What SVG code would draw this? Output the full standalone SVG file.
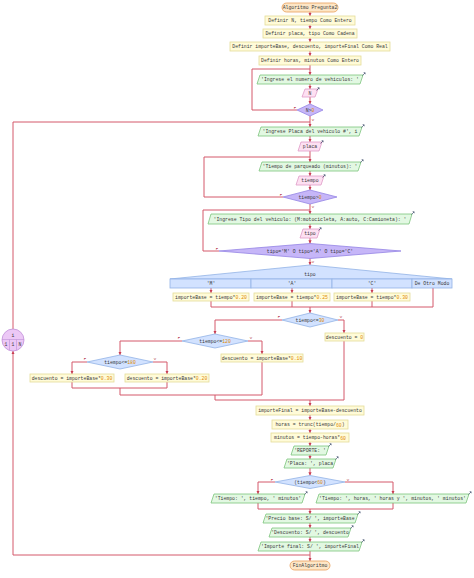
<svg xmlns="http://www.w3.org/2000/svg" width="474" height="578" viewBox="0 0 474 578">
<style>
text{font-family:"Liberation Mono","DejaVu Sans Mono",monospace;font-size:4.8px;fill:#3a3a3a;text-anchor:middle;dominant-baseline:central}
.n{fill:#e08a00}
.term{fill:#fde6c6;stroke:#e8a05a;stroke-width:0.8}
.proc{fill:#fffbd8;stroke:#e4dc98;stroke-width:0.8}
.out{fill:#e2f8e2;stroke:#7cc47c;stroke-width:0.8}
.in{fill:#fde0f2;stroke:#e09cc8;stroke-width:0.8}
.rep{fill:#c6b6f8;stroke:#9484e4;stroke-width:0.8}
.si{fill:#d2e2ff;stroke:#92b2e6;stroke-width:0.8}
.loop{fill:#ecc8f6;stroke:#c090d8;stroke-width:0.8}
.c{fill:none;stroke:#d4586a;stroke-width:1}
.ca{fill:none;stroke:#d4586a;stroke-width:1;marker-end:url(#ah)}
.lbl{font-size:4px;fill:#b03040}
</style>
<defs>
<marker id="ah" viewBox="0 0 6 6" refX="6" refY="3" markerWidth="3.2" markerHeight="3.2" markerUnits="userSpaceOnUse" orient="auto"><path d="M0,0 L6,3 L0,6 Z" fill="#c83c52"/></marker>
<g id="ico"><path d="M0.5,3.5 L2.4,1.6" stroke="#223355" stroke-width="0.6"/><path d="M1.4,0.6 L3.4,0.6 L3.4,2.6 Z" fill="#223355"/></g>
</defs>

<g id="connectors">
<path class="ca" d="M310,12 V16"/>
<path class="ca" d="M310,25 V29"/>
<path class="ca" d="M310,38 V42"/>
<path class="ca" d="M310,51 V56"/>
<path class="ca" d="M310,65 V75"/>
<path class="ca" d="M310,84 V89"/>
<path class="ca" d="M310,97 V104"/>
<path class="ca" d="M310,116 V127"/>
<path class="ca" d="M310,136 V142"/>
<path class="ca" d="M310,151 V162"/>
<path class="ca" d="M310,171 V176"/>
<path class="ca" d="M310,185 V190"/>
<path class="ca" d="M310,204 V214"/>
<path class="ca" d="M310,224 V229"/>
<path class="ca" d="M310,238 V243.5"/>
<path class="ca" d="M310,258.5 V265"/>
<path class="c" d="M297,110 H252 V69 H310"/>
<path class="c" d="M283,197 H204 V157 H310"/>
<path class="c" d="M219,251 H203 V210 H310"/>
<path class="c" d="M13,329 V122 H310"/>
<path class="ca" d="M310,555 H13 V351"/>
<path class="ca" d="M211,288 V293"/>
<path class="ca" d="M292,288 V293"/>
<path class="ca" d="M372,288 V293"/>
<path class="c" d="M211,301 V307 M292,301 V307 M372,301 V307 M433,288 V307 M211,307 H433"/>
<path class="ca" d="M310,307 V313"/>
<path class="ca" d="M282,320 H215 V334"/>
<path class="ca" d="M338,320 H344 V333"/>
<path class="ca" d="M182,341 H120 V355"/>
<path class="ca" d="M248,341 H262 V354"/>
<path class="ca" d="M87,362 H72 V374"/>
<path class="ca" d="M153,362 H167 V374"/>
<path class="c" d="M72,382 V388 M167,382 V388 M72,388 H167 M120,388 V395 M262,362 V395 M120,395 H262 M215,395 V400 M344,341 V400 M215,400 H344"/>
<path class="ca" d="M310,400 V406"/>
<path class="ca" d="M310,415 V420"/>
<path class="ca" d="M310,429 V433"/>
<path class="ca" d="M310,442 V446"/>
<path class="ca" d="M310,455 V459"/>
<path class="ca" d="M310,468 V475.5"/>
<path class="ca" d="M275,482 H258 V494"/>
<path class="ca" d="M345,482 H393 V494"/>
<path class="c" d="M258,503 V509 M393,503 V509 M258,509 H393"/>
<path class="ca" d="M310,509 V514"/>
<path class="ca" d="M310,523 V528"/>
<path class="ca" d="M310,537 V542"/>
<path class="ca" d="M310,551 V561"/>
<text class="lbl" x="295" y="107.5">F</text>
<text class="lbl" x="313" y="119.5">V</text>
<text class="lbl" x="281" y="194.5">F</text>
<text class="lbl" x="313" y="207">V</text>
<text class="lbl" x="217" y="248.5">F</text>
<text class="lbl" x="313" y="261.5">V</text>
<text class="lbl" x="279" y="317">F</text>
<text class="lbl" x="341" y="317">V</text>
<text class="lbl" x="179" y="338">F</text>
<text class="lbl" x="251" y="338">V</text>
<text class="lbl" x="85" y="359">F</text>
<text class="lbl" x="155" y="359">V</text>
<text class="lbl" x="272" y="479.5">F</text>
<text class="lbl" x="348" y="479.5">V</text>
</g>

<g id="n-start"><rect class="term" x="282" y="3" width="56" height="9" rx="4.5"/><text x="310" y="7.5">Algoritmo Pregunta2</text></g>
<g id="n-def1"><rect class="proc" x="265" y="16" width="90" height="9"/><text x="310" y="20.5">Definir N, tiempo Como Entero</text></g>
<g id="n-def2"><rect class="proc" x="263" y="29" width="94" height="9"/><text x="310" y="33.5">Definir placa, tipo Como Cadena</text></g>
<g id="n-def3"><rect class="proc" x="230" y="42" width="160" height="9"/><text x="310" y="46.5">Definir importeBase, descuento, importeFinal Como Real</text></g>
<g id="n-def4"><rect class="proc" x="259" y="56" width="102" height="9"/><text x="310" y="60.5">Definir horas, minutos Como Entero</text></g>

<g id="n-out1"><polygon class="out" points="260,75 363,75 360,84 257,84"/><text x="310" y="79.5">'Ingrese el numero de vehiculos: '</text><use href="#ico" x="362" y="72"/></g>
<g id="n-in1"><polygon class="in" points="305,89 318,89 315,97 302,97"/><text x="310" y="93">N</text><use href="#ico" x="316" y="87"/></g>
<g id="n-rep1"><polygon class="rep" points="310,104 323,110 310,116 297,110"/><text x="310" y="110">N&gt;<tspan class="n">0</tspan></text></g>

<g id="n-for"><circle class="loop" cx="13" cy="340" r="11"/><path d="M2,339.5 H24 M9.5,339.5 V350 M16.5,339.5 V350" stroke="#c090d8" stroke-width="0.6" fill="none"/><text x="13" y="335.5">i</text><text x="6" y="344.5">1</text><text x="13" y="344.5">1</text><text x="20" y="344.5">N</text></g>

<g id="n-out2"><polygon class="out" points="261,127 362,127 359,136 258,136"/><text x="310" y="131.5">'Ingrese Placa del vehiculo #', i</text><use href="#ico" x="361" y="124"/></g>
<g id="n-in2"><polygon class="in" points="301,142 322,142 319,151 298,151"/><text x="310" y="146.5">placa</text><use href="#ico" x="320" y="140"/></g>
<g id="n-out3"><polygon class="out" points="262,162 361,162 358,171 259,171"/><text x="310" y="166.5">'Tiempo de parqueado (minutos): '</text><use href="#ico" x="360" y="159"/></g>
<g id="n-in3"><polygon class="in" points="299,176 324,176 321,185 296,185"/><text x="310" y="180.5">tiempo</text><use href="#ico" x="322" y="174"/></g>
<g id="n-rep2"><polygon class="rep" points="310,190 337,197 310,204 283,197"/><text x="310" y="197">tiempo&gt;<tspan class="n">0</tspan></text></g>

<g id="n-out4"><polygon class="out" points="211,214 412,214 409,224 208,224"/><text x="310" y="219">'Ingrese Tipo del vehiculo: (M:motocicleta, A:auto, C:Camioneta): '</text><use href="#ico" x="411" y="211"/></g>
<g id="n-in4"><polygon class="in" points="303,229 320,229 317,238 300,238"/><text x="310" y="233.5">tipo</text><use href="#ico" x="318" y="227"/></g>
<g id="n-rep3"><polygon class="rep" points="310,243.5 401,251 310,258.5 219,251"/><text x="310" y="251">tipo='M' O tipo='A' O tipo='C'</text></g>

<g id="n-segun"><polygon class="si" points="170,279 310,265 452,279"/><text x="310" y="274.5">tipo</text>
<rect class="si" x="170" y="279" width="81" height="9"/><rect class="si" x="251" y="279" width="81" height="9"/><rect class="si" x="332" y="279" width="80" height="9"/><rect class="si" x="412" y="279" width="40" height="9"/>
<text x="211" y="283.5">'M'</text><text x="292" y="283.5">'A'</text><text x="372" y="283.5">'C'</text><text x="432" y="283.5">De Otro Modo</text></g>
<g id="n-m"><rect class="proc" x="173" y="293" width="76" height="8"/><text x="211" y="297">importeBase = tiempo*<tspan class="n">0.20</tspan></text></g>
<g id="n-a"><rect class="proc" x="254" y="293" width="76" height="8"/><text x="292" y="297">importeBase = tiempo*<tspan class="n">0.25</tspan></text></g>
<g id="n-c"><rect class="proc" x="334" y="293" width="76" height="8"/><text x="372" y="297">importeBase = tiempo*<tspan class="n">0.30</tspan></text></g>

<g id="n-si30"><polygon class="si" points="310,313 338,320 310,327 282,320"/><text x="310" y="320">tiempo&lt;=<tspan class="n">30</tspan></text></g>
<g id="n-d0"><rect class="proc" x="325" y="333" width="39" height="8"/><text x="344.5" y="337">descuento = <tspan class="n">0</tspan></text></g>
<g id="n-si120"><polygon class="si" points="215,334 248,341 215,348 182,341"/><text x="215" y="341">tiempo&lt;=<tspan class="n">120</tspan></text></g>
<g id="n-d10"><rect class="proc" x="221" y="354" width="82" height="8"/><text x="262" y="358">descuento = importeBase*<tspan class="n">0.10</tspan></text></g>
<g id="n-si180"><polygon class="si" points="120,355 153,362 120,369 87,362"/><text x="120" y="362">tiempo&lt;=<tspan class="n">180</tspan></text></g>
<g id="n-d30"><rect class="proc" x="30" y="374" width="84" height="8"/><text x="72" y="378">descuento = importeBase*<tspan class="n">0.30</tspan></text></g>
<g id="n-d20"><rect class="proc" x="125" y="374" width="84" height="8"/><text x="167" y="378">descuento = importeBase*<tspan class="n">0.20</tspan></text></g>

<g id="n-final"><rect class="proc" x="256" y="406" width="108" height="9"/><text x="310" y="410.5">importeFinal = importeBase-descuento</text></g>
<g id="n-horas"><rect class="proc" x="272" y="420" width="76" height="9"/><text x="310" y="424.5">horas = trunc(tiempo/<tspan class="n">60</tspan>)</text></g>
<g id="n-min"><rect class="proc" x="271" y="433" width="78" height="9"/><text x="310" y="437.5">minutos = tiempo-horas*<tspan class="n">60</tspan></text></g>
<g id="n-out5"><polygon class="out" points="294,446 329,446 326,455 291,455"/><text x="310" y="450.5">'REPORTE: '</text><use href="#ico" x="328" y="443"/></g>
<g id="n-out6"><polygon class="out" points="287,459 336,459 333,468 284,468"/><text x="310" y="463.5">'Placa: ', placa</text><use href="#ico" x="335" y="456"/></g>
<g id="n-si60"><polygon class="si" points="310,475.5 345,482 310,488.5 275,482"/><text x="310" y="482">(tiempo&lt;<tspan class="n">60</tspan>)</text></g>
<g id="n-out7"><polygon class="out" points="214,494 305,494 302,503 211,503"/><text x="258" y="498.5">'Tiempo: ', tiempo, ' minutos'</text><use href="#ico" x="304" y="491"/></g>
<g id="n-out8"><polygon class="out" points="319,494 469,494 466,503 316,503"/><text x="392.5" y="498.5">'Tiempo: ', horas, ' horas y ', minutos, ' minutos'</text><use href="#ico" x="468" y="491"/></g>
<g id="n-out9"><polygon class="out" points="266,514 358,514 355,523 263,523"/><text x="310" y="518.5">'Precio base: S/ ', importeBase</text><use href="#ico" x="357" y="511"/></g>
<g id="n-out10"><polygon class="out" points="272,528 351,528 348,537 269,537"/><text x="310" y="532.5">'Descuento: S/ ', descuento</text><use href="#ico" x="350" y="525"/></g>
<g id="n-out11"><polygon class="out" points="261,542 362,542 359,551 258,551"/><text x="310" y="546.5">'Importe final: S/ ', importeFinal</text><use href="#ico" x="361" y="539"/></g>
<g id="n-end"><rect class="term" x="290" y="561" width="40" height="9" rx="4.5"/><text x="310" y="565.5">FinAlgoritmo</text></g>
</svg>
